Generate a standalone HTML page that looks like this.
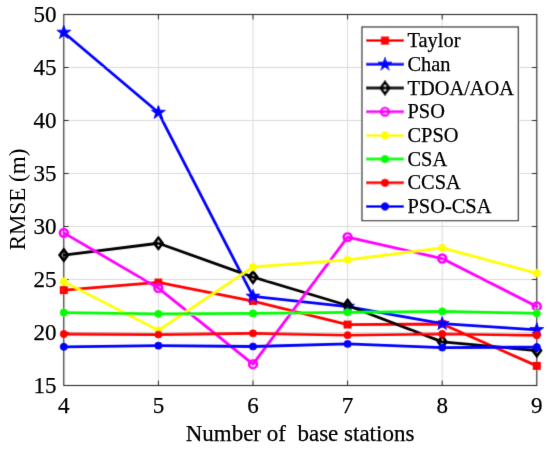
<!DOCTYPE html>
<html><head><meta charset="utf-8"><style>
html,body{margin:0;padding:0;background:#fff;}
svg{display:block;}
.t{font-family:"Liberation Serif",serif;font-size:23px;fill:#000;stroke:#000;stroke-width:0.25px;}
.l{font-family:"Liberation Serif",serif;font-size:20.4px;fill:#000;stroke:#000;stroke-width:0.25px;}
</style></head><body>
<svg width="550" height="451" viewBox="0 0 550 451">
<defs><filter id="bl" x="-5%" y="-5%" width="110%" height="110%"><feConvolveMatrix order="3" kernelMatrix="0.0144 0.0912 0.0144 0.0912 0.5776 0.0912 0.0144 0.0912 0.0144" edgeMode="none" preserveAlpha="false"/></filter><filter id="tx" x="-5%" y="-5%" width="110%" height="110%"><feConvolveMatrix order="3" kernelMatrix="0.0025 0.0450 0.0025 0.0450 0.8100 0.0450 0.0025 0.0450 0.0025" edgeMode="none" preserveAlpha="false"/></filter></defs>
<rect width="550" height="451" fill="#fff"/>
<g filter="url(#bl)">
<line x1="158.40" y1="14.5" x2="158.40" y2="385.5" stroke="#dadada" stroke-width="1"/>
<line x1="253.00" y1="14.5" x2="253.00" y2="385.5" stroke="#dadada" stroke-width="1"/>
<line x1="347.60" y1="14.5" x2="347.60" y2="385.5" stroke="#dadada" stroke-width="1"/>
<line x1="442.20" y1="14.5" x2="442.20" y2="385.5" stroke="#dadada" stroke-width="1"/>
<line x1="63.8" y1="332.50" x2="536.8" y2="332.50" stroke="#dadada" stroke-width="1"/>
<line x1="63.8" y1="279.50" x2="536.8" y2="279.50" stroke="#dadada" stroke-width="1"/>
<line x1="63.8" y1="226.50" x2="536.8" y2="226.50" stroke="#dadada" stroke-width="1"/>
<line x1="63.8" y1="173.50" x2="536.8" y2="173.50" stroke="#dadada" stroke-width="1"/>
<line x1="63.8" y1="120.50" x2="536.8" y2="120.50" stroke="#dadada" stroke-width="1"/>
<line x1="63.8" y1="67.50" x2="536.8" y2="67.50" stroke="#dadada" stroke-width="1"/>
<rect x="63.8" y="14.5" width="472.99999999999994" height="371.0" fill="none" stroke="#262626" stroke-width="1.1"/>
<line x1="158.40" y1="385.5" x2="158.40" y2="380.5" stroke="#262626" stroke-width="1"/>
<line x1="158.40" y1="14.5" x2="158.40" y2="19.5" stroke="#262626" stroke-width="1"/>
<line x1="253.00" y1="385.5" x2="253.00" y2="380.5" stroke="#262626" stroke-width="1"/>
<line x1="253.00" y1="14.5" x2="253.00" y2="19.5" stroke="#262626" stroke-width="1"/>
<line x1="347.60" y1="385.5" x2="347.60" y2="380.5" stroke="#262626" stroke-width="1"/>
<line x1="347.60" y1="14.5" x2="347.60" y2="19.5" stroke="#262626" stroke-width="1"/>
<line x1="442.20" y1="385.5" x2="442.20" y2="380.5" stroke="#262626" stroke-width="1"/>
<line x1="442.20" y1="14.5" x2="442.20" y2="19.5" stroke="#262626" stroke-width="1"/>
<line x1="63.8" y1="332.50" x2="68.8" y2="332.50" stroke="#262626" stroke-width="1"/>
<line x1="536.8" y1="332.50" x2="531.8" y2="332.50" stroke="#262626" stroke-width="1"/>
<line x1="63.8" y1="279.50" x2="68.8" y2="279.50" stroke="#262626" stroke-width="1"/>
<line x1="536.8" y1="279.50" x2="531.8" y2="279.50" stroke="#262626" stroke-width="1"/>
<line x1="63.8" y1="226.50" x2="68.8" y2="226.50" stroke="#262626" stroke-width="1"/>
<line x1="536.8" y1="226.50" x2="531.8" y2="226.50" stroke="#262626" stroke-width="1"/>
<line x1="63.8" y1="173.50" x2="68.8" y2="173.50" stroke="#262626" stroke-width="1"/>
<line x1="536.8" y1="173.50" x2="531.8" y2="173.50" stroke="#262626" stroke-width="1"/>
<line x1="63.8" y1="120.50" x2="68.8" y2="120.50" stroke="#262626" stroke-width="1"/>
<line x1="536.8" y1="120.50" x2="531.8" y2="120.50" stroke="#262626" stroke-width="1"/>
<line x1="63.8" y1="67.50" x2="68.8" y2="67.50" stroke="#262626" stroke-width="1"/>
<line x1="536.8" y1="67.50" x2="531.8" y2="67.50" stroke="#262626" stroke-width="1"/>
<polyline points="63.80,290.10 158.40,282.47 253.00,301.02 347.60,324.55 442.20,324.02 536.80,365.89" fill="none" stroke="#ff0000" stroke-width="2.8" stroke-linejoin="round" stroke-linecap="round"/>
<rect x="61.20" y="287.50" width="5.20" height="5.20" fill="none" stroke="#ff0000" stroke-width="2.8"/>
<rect x="155.80" y="279.87" width="5.20" height="5.20" fill="none" stroke="#ff0000" stroke-width="2.8"/>
<rect x="250.40" y="298.42" width="5.20" height="5.20" fill="none" stroke="#ff0000" stroke-width="2.8"/>
<rect x="345.00" y="321.95" width="5.20" height="5.20" fill="none" stroke="#ff0000" stroke-width="2.8"/>
<rect x="439.60" y="321.42" width="5.20" height="5.20" fill="none" stroke="#ff0000" stroke-width="2.8"/>
<rect x="534.20" y="363.29" width="5.20" height="5.20" fill="none" stroke="#ff0000" stroke-width="2.8"/>
<polyline points="63.80,32.52 158.40,112.55 253.00,296.46 347.60,306.53 442.20,323.70 536.80,329.85" fill="none" stroke="#0000ff" stroke-width="2.8" stroke-linejoin="round" stroke-linecap="round"/>
<polygon points="63.80,25.22 65.50,30.17 70.74,30.26 66.56,33.42 68.09,38.43 63.80,35.42 59.51,38.43 61.04,33.42 56.86,30.26 62.10,30.17" fill="#0000ff" stroke="#0000ff" stroke-width="0.8"/>
<polygon points="158.40,105.25 160.10,110.20 165.34,110.29 161.16,113.45 162.69,118.46 158.40,115.45 154.11,118.46 155.64,113.45 151.46,110.29 156.70,110.20" fill="#0000ff" stroke="#0000ff" stroke-width="0.8"/>
<polygon points="253.00,289.16 254.70,294.11 259.94,294.20 255.76,297.36 257.29,302.37 253.00,299.36 248.71,302.37 250.24,297.36 246.06,294.20 251.30,294.11" fill="#0000ff" stroke="#0000ff" stroke-width="0.8"/>
<polygon points="347.60,299.23 349.30,304.18 354.54,304.27 350.36,307.43 351.89,312.44 347.60,309.43 343.31,312.44 344.84,307.43 340.66,304.27 345.90,304.18" fill="#0000ff" stroke="#0000ff" stroke-width="0.8"/>
<polygon points="442.20,316.40 443.90,321.36 449.14,321.45 444.96,324.60 446.49,329.61 442.20,326.60 437.91,329.61 439.44,324.60 435.26,321.45 440.50,321.36" fill="#0000ff" stroke="#0000ff" stroke-width="0.8"/>
<polygon points="536.80,322.55 538.50,327.50 543.74,327.59 539.56,330.75 541.09,335.76 536.80,332.75 532.51,335.76 534.04,330.75 529.86,327.59 535.10,327.50" fill="#0000ff" stroke="#0000ff" stroke-width="0.8"/>
<polyline points="63.80,255.12 158.40,243.25 253.00,277.06 347.60,305.47 442.20,341.83 536.80,350.52" fill="none" stroke="#000000" stroke-width="2.8" stroke-linejoin="round" stroke-linecap="round"/>
<path d="M63.80 249.62L67.90 255.12L63.80 260.62L59.70 255.12Z" fill="none" stroke="#000000" stroke-width="2.8" stroke-linejoin="miter"/>
<path d="M158.40 237.75L162.50 243.25L158.40 248.75L154.30 243.25Z" fill="none" stroke="#000000" stroke-width="2.8" stroke-linejoin="miter"/>
<path d="M253.00 271.56L257.10 277.06L253.00 282.56L248.90 277.06Z" fill="none" stroke="#000000" stroke-width="2.8" stroke-linejoin="miter"/>
<path d="M347.60 299.97L351.70 305.47L347.60 310.97L343.50 305.47Z" fill="none" stroke="#000000" stroke-width="2.8" stroke-linejoin="miter"/>
<path d="M442.20 336.33L446.30 341.83L442.20 347.33L438.10 341.83Z" fill="none" stroke="#000000" stroke-width="2.8" stroke-linejoin="miter"/>
<path d="M536.80 345.02L540.90 350.52L536.80 356.02L532.70 350.52Z" fill="none" stroke="#000000" stroke-width="2.8" stroke-linejoin="miter"/>
<polyline points="63.80,232.86 158.40,288.09 253.00,364.19 347.60,237.10 442.20,258.51 536.80,306.42" fill="none" stroke="#ff00ff" stroke-width="2.8" stroke-linejoin="round" stroke-linecap="round"/>
<circle cx="63.80" cy="232.86" r="3.9" fill="none" stroke="#ff00ff" stroke-width="2.6"/>
<circle cx="158.40" cy="288.09" r="3.9" fill="none" stroke="#ff00ff" stroke-width="2.6"/>
<circle cx="253.00" cy="364.19" r="3.9" fill="none" stroke="#ff00ff" stroke-width="2.6"/>
<circle cx="347.60" cy="237.10" r="3.9" fill="none" stroke="#ff00ff" stroke-width="2.6"/>
<circle cx="442.20" cy="258.51" r="3.9" fill="none" stroke="#ff00ff" stroke-width="2.6"/>
<circle cx="536.80" cy="306.42" r="3.9" fill="none" stroke="#ff00ff" stroke-width="2.6"/>
<polyline points="63.80,281.62 158.40,330.38 253.00,266.89 347.60,259.78 442.20,247.91 536.80,273.25" fill="none" stroke="#ffff00" stroke-width="2.8" stroke-linejoin="round" stroke-linecap="round"/>
<circle cx="63.80" cy="281.62" r="3.60" fill="#ffff00" stroke="#ffff00" stroke-width="0.8"/>
<circle cx="158.40" cy="330.38" r="3.60" fill="#ffff00" stroke="#ffff00" stroke-width="0.8"/>
<circle cx="253.00" cy="266.89" r="3.60" fill="#ffff00" stroke="#ffff00" stroke-width="0.8"/>
<circle cx="347.60" cy="259.78" r="3.60" fill="#ffff00" stroke="#ffff00" stroke-width="0.8"/>
<circle cx="442.20" cy="247.91" r="3.60" fill="#ffff00" stroke="#ffff00" stroke-width="0.8"/>
<circle cx="536.80" cy="273.25" r="3.60" fill="#ffff00" stroke="#ffff00" stroke-width="0.8"/>
<polyline points="63.80,312.57 158.40,313.84 253.00,313.42 347.60,312.36 442.20,311.41 536.80,313.31" fill="none" stroke="#00ff00" stroke-width="2.8" stroke-linejoin="round" stroke-linecap="round"/>
<circle cx="63.80" cy="312.57" r="3.60" fill="#00ff00" stroke="#00ff00" stroke-width="0.8"/>
<circle cx="158.40" cy="313.84" r="3.60" fill="#00ff00" stroke="#00ff00" stroke-width="0.8"/>
<circle cx="253.00" cy="313.42" r="3.60" fill="#00ff00" stroke="#00ff00" stroke-width="0.8"/>
<circle cx="347.60" cy="312.36" r="3.60" fill="#00ff00" stroke="#00ff00" stroke-width="0.8"/>
<circle cx="442.20" cy="311.41" r="3.60" fill="#00ff00" stroke="#00ff00" stroke-width="0.8"/>
<circle cx="536.80" cy="313.31" r="3.60" fill="#00ff00" stroke="#00ff00" stroke-width="0.8"/>
<polyline points="63.80,333.98 158.40,334.51 253.00,333.35 347.60,335.15 442.20,333.88 536.80,335.26" fill="none" stroke="#ff0000" stroke-width="2.8" stroke-linejoin="round" stroke-linecap="round"/>
<circle cx="63.80" cy="333.98" r="3.60" fill="#ff0000" stroke="#ff0000" stroke-width="0.8"/>
<circle cx="158.40" cy="334.51" r="3.60" fill="#ff0000" stroke="#ff0000" stroke-width="0.8"/>
<circle cx="253.00" cy="333.35" r="3.60" fill="#ff0000" stroke="#ff0000" stroke-width="0.8"/>
<circle cx="347.60" cy="335.15" r="3.60" fill="#ff0000" stroke="#ff0000" stroke-width="0.8"/>
<circle cx="442.20" cy="333.88" r="3.60" fill="#ff0000" stroke="#ff0000" stroke-width="0.8"/>
<circle cx="536.80" cy="335.26" r="3.60" fill="#ff0000" stroke="#ff0000" stroke-width="0.8"/>
<polyline points="63.80,346.81 158.40,345.64 253.00,346.49 347.60,343.95 442.20,347.55 536.80,347.13" fill="none" stroke="#0000ff" stroke-width="2.8" stroke-linejoin="round" stroke-linecap="round"/>
<circle cx="63.80" cy="346.81" r="3.60" fill="#0000ff" stroke="#0000ff" stroke-width="0.8"/>
<circle cx="158.40" cy="345.64" r="3.60" fill="#0000ff" stroke="#0000ff" stroke-width="0.8"/>
<circle cx="253.00" cy="346.49" r="3.60" fill="#0000ff" stroke="#0000ff" stroke-width="0.8"/>
<circle cx="347.60" cy="343.95" r="3.60" fill="#0000ff" stroke="#0000ff" stroke-width="0.8"/>
<circle cx="442.20" cy="347.55" r="3.60" fill="#0000ff" stroke="#0000ff" stroke-width="0.8"/>
<circle cx="536.80" cy="347.13" r="3.60" fill="#0000ff" stroke="#0000ff" stroke-width="0.8"/>
<rect x="362.0" y="27.0" width="156.29999999999995" height="193.6" fill="#ffffff" stroke="#262626" stroke-width="1.2"/>
<line x1="366" y1="40.60" x2="404" y2="40.60" stroke="#ff0000" stroke-width="3.0"/>
<rect x="382.19" y="37.79" width="5.62" height="5.62" fill="none" stroke="#ff0000" stroke-width="2.8"/>
<line x1="366" y1="64.30" x2="404" y2="64.30" stroke="#0000ff" stroke-width="3.0"/>
<polygon points="385.00,57.00 386.70,61.95 391.94,62.04 387.76,65.20 389.29,70.21 385.00,67.20 380.71,70.21 382.24,65.20 378.06,62.04 383.30,61.95" fill="#0000ff" stroke="#0000ff" stroke-width="0.8"/>
<line x1="366" y1="88.00" x2="404" y2="88.00" stroke="#000000" stroke-width="3.0"/>
<path d="M385.00 82.06L389.43 88.00L385.00 93.94L380.57 88.00Z" fill="none" stroke="#000000" stroke-width="2.8" stroke-linejoin="miter"/>
<line x1="366" y1="111.70" x2="404" y2="111.70" stroke="#ff00ff" stroke-width="3.0"/>
<circle cx="385.00" cy="111.70" r="3.9" fill="none" stroke="#ff00ff" stroke-width="2.6"/>
<line x1="366" y1="135.40" x2="404" y2="135.40" stroke="#ffff00" stroke-width="3.0"/>
<circle cx="385.00" cy="135.40" r="3.89" fill="#ffff00" stroke="#ffff00" stroke-width="0.8"/>
<line x1="366" y1="159.10" x2="404" y2="159.10" stroke="#00ff00" stroke-width="3.0"/>
<circle cx="385.00" cy="159.10" r="3.89" fill="#00ff00" stroke="#00ff00" stroke-width="0.8"/>
<line x1="366" y1="182.80" x2="404" y2="182.80" stroke="#ff0000" stroke-width="3.0"/>
<circle cx="385.00" cy="182.80" r="3.89" fill="#ff0000" stroke="#ff0000" stroke-width="0.8"/>
<line x1="366" y1="206.50" x2="404" y2="206.50" stroke="#0000ff" stroke-width="3.0"/>
<circle cx="385.00" cy="206.50" r="3.89" fill="#0000ff" stroke="#0000ff" stroke-width="0.8"/>
</g>
<g filter="url(#tx)">
<text x="63.80" y="413" text-anchor="middle" class="t">4</text>
<text x="158.40" y="413" text-anchor="middle" class="t">5</text>
<text x="253.00" y="413" text-anchor="middle" class="t">6</text>
<text x="347.60" y="413" text-anchor="middle" class="t">7</text>
<text x="442.20" y="413" text-anchor="middle" class="t">8</text>
<text x="536.80" y="413" text-anchor="middle" class="t">9</text>
<text x="56.5" y="393.00" text-anchor="end" class="t">15</text>
<text x="56.5" y="340.00" text-anchor="end" class="t">20</text>
<text x="56.5" y="287.00" text-anchor="end" class="t">25</text>
<text x="56.5" y="234.00" text-anchor="end" class="t">30</text>
<text x="56.5" y="181.00" text-anchor="end" class="t">35</text>
<text x="56.5" y="128.00" text-anchor="end" class="t">40</text>
<text x="56.5" y="75.00" text-anchor="end" class="t">45</text>
<text x="56.5" y="22.00" text-anchor="end" class="t">50</text>
<text x="300" y="441" text-anchor="middle" class="t" xml:space="preserve" style="white-space:pre">Number of  base stations</text>
<text transform="translate(25.0,199.5) rotate(-90)" text-anchor="middle" class="t" style="stroke-width:0">RMSE (m)</text>
<text x="407.5" y="47.10" class="l">Taylor</text>
<text x="407.5" y="70.80" class="l">Chan</text>
<text x="407.5" y="94.50" class="l">TDOA/AOA</text>
<text x="407.5" y="118.20" class="l">PSO</text>
<text x="407.5" y="141.90" class="l">CPSO</text>
<text x="407.5" y="165.60" class="l">CSA</text>
<text x="407.5" y="189.30" class="l">CCSA</text>
<text x="407.5" y="213.00" class="l">PSO-CSA</text>
</g>
</svg></body></html>
